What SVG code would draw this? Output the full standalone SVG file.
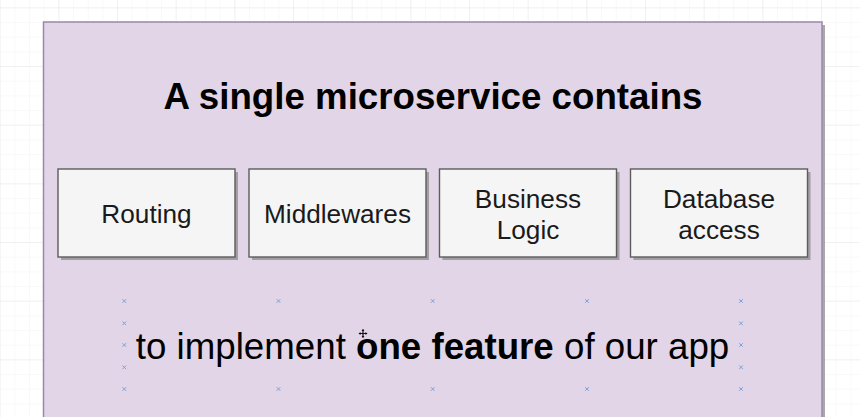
<svg xmlns="http://www.w3.org/2000/svg" width="860" height="417" viewBox="0 0 860 417">
  <defs>
    <pattern id="minor" x="-0.3" y="7.3" width="14.667" height="14.667" patternUnits="userSpaceOnUse">
      <path d="M 0 0 H 14.667 M 0 0 V 14.667" fill="none" stroke="#f3f3f3" stroke-width="1"/>
    </pattern>
    <pattern id="major" x="-0.3" y="7.3" width="58.667" height="58.667" patternUnits="userSpaceOnUse">
      <path d="M 0 0 H 58.667 M 0 0 V 58.667" fill="none" stroke="#e9e9e9" stroke-width="1"/>
    </pattern>
    <g id="mk">
      <path d="M -1.8 -1.8 L 1.8 1.8 M -1.8 1.8 L 1.8 -1.8" stroke="#79a3dc" stroke-width="1" fill="none"/>
    </g>
  </defs>
  <style>
    .box { fill: #f5f5f5; stroke: #5c5c5c; stroke-width: 1.4; }
    .shadow { fill: #8c8c8c; opacity: 0.75; }
    .lbl { font-family: "Liberation Sans", Arial, Helvetica, sans-serif; font-size: 26.2px; fill: #1a1a1a; text-anchor: middle; }
    .big { font-family: "Liberation Sans", Arial, Helvetica, sans-serif; font-size: 36.7px; fill: #000; text-anchor: middle; }
  </style>

  <rect x="0" y="0" width="860" height="417" fill="#ffffff"/>
  <rect x="0" y="0" width="860" height="417" fill="url(#minor)"/>
  <rect x="0" y="0" width="860" height="417" fill="url(#major)"/>

  <g id="container">
    <rect x="46.5" y="25" width="778.5" height="420" class="shadow"/>
    <rect x="43.5" y="22" width="778.5" height="420" fill="#e1d5e7" stroke="#9a87ac" stroke-width="1.5"/>
    <text x="433" y="108.5" class="big" font-weight="bold">A single microservice contains</text>
  </g>

  <g id="routing">
    <rect x="61" y="172" width="177" height="88" class="shadow"/>
    <rect x="58" y="169" width="177" height="88" class="box"/>
    <text x="146.5" y="223" class="lbl">Routing</text>
  </g>

  <g id="middlewares">
    <rect x="252" y="172" width="177" height="88" class="shadow"/>
    <rect x="249" y="169" width="177" height="88" class="box"/>
    <text x="337.5" y="223" class="lbl">Middlewares</text>
  </g>

  <g id="business-logic">
    <rect x="442.5" y="172" width="177" height="88" class="shadow"/>
    <rect x="439.5" y="169" width="177" height="88" class="box"/>
    <text class="lbl"><tspan x="528" y="208">Business</tspan><tspan x="528" y="239">Logic</tspan></text>
  </g>

  <g id="database-access">
    <rect x="633.5" y="172" width="177" height="88" class="shadow"/>
    <rect x="630.5" y="169" width="177" height="88" class="box"/>
    <text class="lbl"><tspan x="719" y="208">Database</tspan><tspan x="719" y="239">access</tspan></text>
  </g>

  <g id="feature-text">
    <g id="handles">
      <use href="#mk" x="124.3" y="301"/>
      <use href="#mk" x="278.5" y="301"/>
      <use href="#mk" x="432.7" y="301"/>
      <use href="#mk" x="587" y="301"/>
      <use href="#mk" x="741" y="301"/>
      <use href="#mk" x="124.3" y="389"/>
      <use href="#mk" x="278.5" y="389"/>
      <use href="#mk" x="432.7" y="389"/>
      <use href="#mk" x="587" y="389"/>
      <use href="#mk" x="741" y="389"/>
      <use href="#mk" x="124.3" y="323.3"/>
      <use href="#mk" x="124.3" y="345"/>
      <use href="#mk" x="124.3" y="367.3"/>
      <use href="#mk" x="741" y="323.3"/>
      <use href="#mk" x="741" y="345"/>
      <use href="#mk" x="741" y="367.3"/>
    </g>
    <text x="432.5" y="358.5" class="big">to implement <tspan font-weight="bold">one feature</tspan> of our app</text>
  </g>

  <g id="connectors"></g>

  <g id="cursor">
    <path d="M 363 329.5 V 337.5 M 359 333.5 H 367" stroke="#111" stroke-width="1.2" fill="none"/>
    <path d="M 361.6 331 L 363 329 L 364.4 331 Z M 361.6 336 L 363 338 L 364.4 336 Z M 360.5 332.1 L 358.5 333.5 L 360.5 334.9 Z M 365.5 332.1 L 367.5 333.5 L 365.5 334.9 Z" fill="#111"/>
  </g>
</svg>
